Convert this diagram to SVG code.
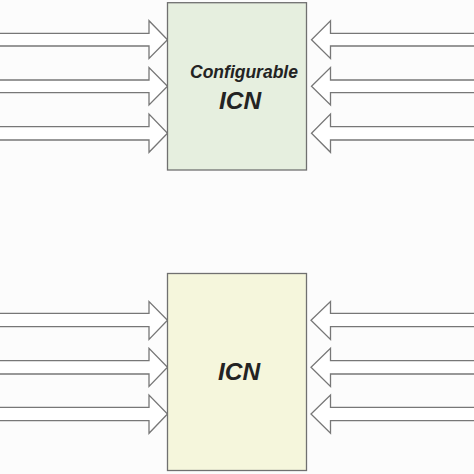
<svg xmlns="http://www.w3.org/2000/svg" width="474" height="474" viewBox="0 0 474 474">
<style>
.bg{fill:#fcfcfc}
.box{stroke:#707070;stroke-width:1.3}
.arr{fill:#ffffff;stroke:#777777;stroke-width:1.3;stroke-linejoin:miter}
.t{font-family:"Liberation Sans",Arial,sans-serif;font-weight:bold;font-style:italic;fill:#232323;text-anchor:middle}
</style>
<rect class="bg" x="0" y="0" width="474" height="474"/>
<g id="connectors">
<path class="arr" d="M-2,33.3 H149 V20.7 L167.5,39.7 L149,58.5 V46 H-2"/>
<path class="arr" d="M-2,80 H149 V67.5 L167.5,86.3 L149,105 V92.7 H-2"/>
<path class="arr" d="M-2,126.7 H149 V114 L167.5,133.2 L149,152.3 V140 H-2"/>
<path class="arr" d="M476,33.3 H330.5 V20.7 L311.5,39.7 L330.5,58.5 V46 H476"/>
<path class="arr" d="M476,80 H330.5 V67.5 L311.5,86.3 L330.5,105 V92.7 H476"/>
<path class="arr" d="M476,126.7 H330.5 V114 L311.5,133.2 L330.5,152.3 V140 H476"/>
<path class="arr" d="M-2,313.3 H149 V301.5 L167.5,320.3 L149,339.5 V326.7 H-2"/>
<path class="arr" d="M-2,360.7 H149 V348.3 L167.5,367.3 L149,386.5 V374 H-2"/>
<path class="arr" d="M-2,407.3 H149 V395 L167.5,414 L149,433.3 V420.7 H-2"/>
<path class="arr" d="M476,313.3 H330.5 V301.5 L311,320.3 L330.5,339.5 V326.7 H476"/>
<path class="arr" d="M476,360.7 H330.5 V348.3 L311,367.3 L330.5,386.5 V374 H476"/>
<path class="arr" d="M476,407.3 H330.5 V395 L311,414 L330.5,433.3 V420.7 H476"/>
</g>
<g id="configurable-icn">
<rect class="box" x="167.5" y="2.7" width="139" height="167.3" fill="#e6efdf"/>
<text class="t" x="244" y="77.5" font-size="17.5">Configurable</text>
<text class="t" x="240" y="108.5" font-size="24.5">ICN</text>
</g>
<g id="icn">
<rect class="box" x="167.5" y="273.5" width="139" height="197" fill="#f5f6dc"/>
<text class="t" x="239" y="380" font-size="24.5">ICN</text>
</g>
</svg>
